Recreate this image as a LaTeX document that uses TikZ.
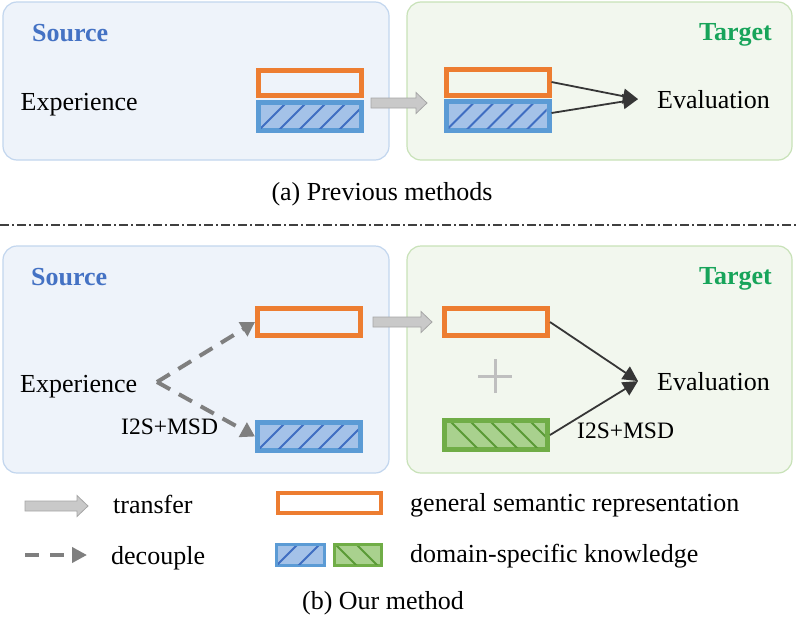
\documentclass[tikz,border=0pt]{standalone}
\usepackage{fontspec}
\setmainfont{Liberation Serif}
\usetikzlibrary{arrows.meta}
\definecolor{orng}{HTML}{ED7D31}
\definecolor{bbord}{HTML}{5B9BD5}
\definecolor{bfill}{HTML}{A4C2E8}
\definecolor{bhat}{HTML}{3F6EC2}
\definecolor{gbord}{HTML}{70AD47}
\definecolor{gfill}{HTML}{A9D18E}
\definecolor{ghat}{HTML}{5A9A36}
\definecolor{srcfill}{HTML}{EEF3FA}
\definecolor{srcbord}{HTML}{C2D6EE}
\definecolor{tgtfill}{HTML}{F2F7EE}
\definecolor{tgtbord}{HTML}{C8E2B8}
\definecolor{srctxt}{HTML}{4472C4}
\definecolor{tgttxt}{HTML}{17A45A}
\definecolor{arrgray}{HTML}{C9C9C9}
\definecolor{arrbord}{HTML}{A6A6A6}
\definecolor{dgray}{HTML}{7F7F7F}
\definecolor{blk}{HTML}{363636}
\newcommand{\hatchup}[4]{%
  \begin{scope}
    \clip ([shift={(#4,#4)}]#1.south west) rectangle ([shift={(-#4,-#4)}]#1.north east);
    \foreach \k in {#3} \draw[#2, line width=1.8pt] ([xshift=\k pt]#1.south west) -- ++(40pt,40pt);
  \end{scope}}
\newcommand{\hatchdown}[4]{%
  \begin{scope}
    \clip ([shift={(#4,#4)}]#1.south west) rectangle ([shift={(-#4,-#4)}]#1.north east);
    \foreach \k in {#3} \draw[#2, line width=1.8pt] ([xshift=\k pt]#1.north west) -- ++(40pt,-40pt);
  \end{scope}}
\tikzset{
  panel/.style={rounded corners=14pt, line width=1.2pt},
  srcpanel/.style={panel, fill=srcfill, draw=srcbord},
  tgtpanel/.style={panel, fill=tgtfill, draw=tgtbord},
  lbl/.style={font=\fontsize{26}{30}\selectfont, inner sep=0pt, text=black},
  smalllbl/.style={font=\fontsize{23.5}{28}\selectfont, inner sep=0pt, text=black},
  titlelbl/.style={font=\fontsize{26}{30}\selectfont\bfseries, inner sep=0pt},
  gsr/.style={draw=orng, line width=5pt, inner sep=0pt, minimum width=103pt, minimum height=25pt},
  dsk/.style={line width=5pt, inner sep=0pt, minimum width=103pt, minimum height=28pt},
  bluebox/.style={dsk, draw=bbord, fill=bfill},
  greenbox/.style={dsk, draw=gbord, fill=gfill},
  transferarrow/.style={fill=arrgray, draw=arrbord, line width=0.8pt},
  decouplearrow/.style={draw=dgray, line width=4pt, dash pattern=on 15pt off 10pt, -{Triangle[length=14pt,width=16pt]}},
  evalarrow/.style={draw=blk, line width=1.8pt, -{Triangle[length=15pt,width=15pt]}},
  pics/tarrow/.style={code={\path[transferarrow] (0,-5) -- (#1-11,-5) -- (#1-11,-10.5) -- (#1,0) -- (#1-11,10.5) -- (#1-11,5) -- (0,5) -- cycle;}},
}
\begin{document}
\begin{tikzpicture}[x=1pt,y=-1pt]
\useasboundingbox (0,0) rectangle (797,616);
\fill[white] (0,0) rectangle (797,616);

% ---------- (a) panels ----------
\path[srcpanel] (3,2) rectangle (389,160);
\path[tgtpanel] (407,2) rectangle (792,160);

\node[titlelbl, text=srctxt, anchor=base west] (src1) at (32,41) {Source};
\node[titlelbl, text=tgttxt, anchor=base east] (tgt1) at (772,40) {Target};
\node[lbl, anchor=base west] (exp1) at (20.5,110) {Experience};
\node[lbl, anchor=base west] (ev1) at (657,108) {Evaluation};

\node[gsr] (o1) at (310,82.5) {};
\node[bluebox] (b1) at (310,116.5) {};
\hatchup{b1}{bhat}{0,20,40,60,80}{5pt}
\node[gsr, minimum height=26pt] (o2) at (497.5,82) {};
\node[bluebox, minimum height=29pt] (b2) at (497.5,116) {};
\hatchup{b2}{bhat}{0,20,40,60,80}{5pt}

\pic at (371,103) {tarrow=56};
\coordinate (tip1) at ([xshift=-19pt]ev1.west);
\draw[evalarrow] (o2.east) -- (tip1);
\draw[evalarrow] ([yshift=3pt]b2.east) -- (tip1);

\node[lbl, anchor=base] (capa) at (382,200) {(a) Previous methods};

% ---------- separator ----------
\draw[draw=black!75, line width=1.2pt, dash pattern=on 9pt off 3pt on 2pt off 3pt] (0,225) -- (797,225);

% ---------- (b) panels ----------
\path[srcpanel] (3,246) rectangle (389,473);
\path[tgtpanel] (407,246) rectangle (792,473);

\node[titlelbl, text=srctxt, anchor=base west] (src2) at (31,285) {Source};
\node[titlelbl, text=tgttxt, anchor=base east] (tgt2) at (772,284) {Target};
\node[lbl, anchor=base west] (exp2) at (20,392) {Experience};
\node[smalllbl, anchor=base west] (msd1) at (121,434) {I2S+MSD};
\node[lbl, anchor=base west] (ev2) at (657,390) {Evaluation};
\node[smalllbl, anchor=base west] (msd2) at (577,438) {I2S+MSD};

\node[gsr, minimum height=27pt] (o3) at (309,322) {};
\node[bluebox] (b3) at (309,436.5) {};
\hatchup{b3}{bhat}{0,20,40,60,80}{5pt}
\node[gsr, minimum height=27pt] (o4) at (496,322) {};
\node[greenbox, minimum height=29pt] (g4) at (496,435) {};
\hatchdown{g4}{ghat}{5,25,45,65,85}{5pt}

\coordinate (split) at (157,382);
\draw[decouplearrow] (split) -- (o3.west);
\draw[decouplearrow] (split) -- (b3.west);

\pic at (373,322) {tarrow=59};

\coordinate (plus) at (495,376);
\draw[draw=black!25, line width=3pt] ([xshift=-17pt]plus) -- ([xshift=17pt]plus)
  ([yshift=-17pt]plus) -- ([yshift=17pt]plus);

\coordinate (tip2) at ([xshift=-19pt]ev2.west);
\draw[evalarrow] (o4.east) -- (tip2);
\draw[evalarrow] (g4.east) -- (tip2);

% ---------- legend ----------
\pic at (25,506) {tarrow=63};
\node[lbl, anchor=base west] (ltr) at (113,513) {transfer};
\coordinate (ldstart) at (25,555);
\coordinate (ldend) at (87,555);
\draw[draw=dgray, line width=4pt, dash pattern=on 14pt off 11pt, -{Triangle[length=15pt,width=15pt]}] (ldstart) -- (ldend);
\node[lbl, anchor=base west] (ldc) at (111,564) {decouple};

\node[gsr, line width=4pt, minimum height=20pt] (lo) at (329.5,503) {};
\node[bluebox, line width=3pt, minimum width=48pt, minimum height=21pt] (lb) at (300.5,555) {};
\hatchup{lb}{bhat}{0,22}{3pt}
\node[greenbox, line width=3pt, minimum width=47pt, minimum height=21pt] (lg) at (358,555) {};
\hatchdown{lg}{ghat}{1,22}{3pt}

\node[lbl, anchor=base west] (lgsr) at (410,511) {general semantic representation};
\node[lbl, anchor=base west] (ldsk) at (410,562) {domain-specific knowledge};

\node[lbl, anchor=base] (capb) at (383,609) {(b) Our method};
\end{tikzpicture}
\end{document}
